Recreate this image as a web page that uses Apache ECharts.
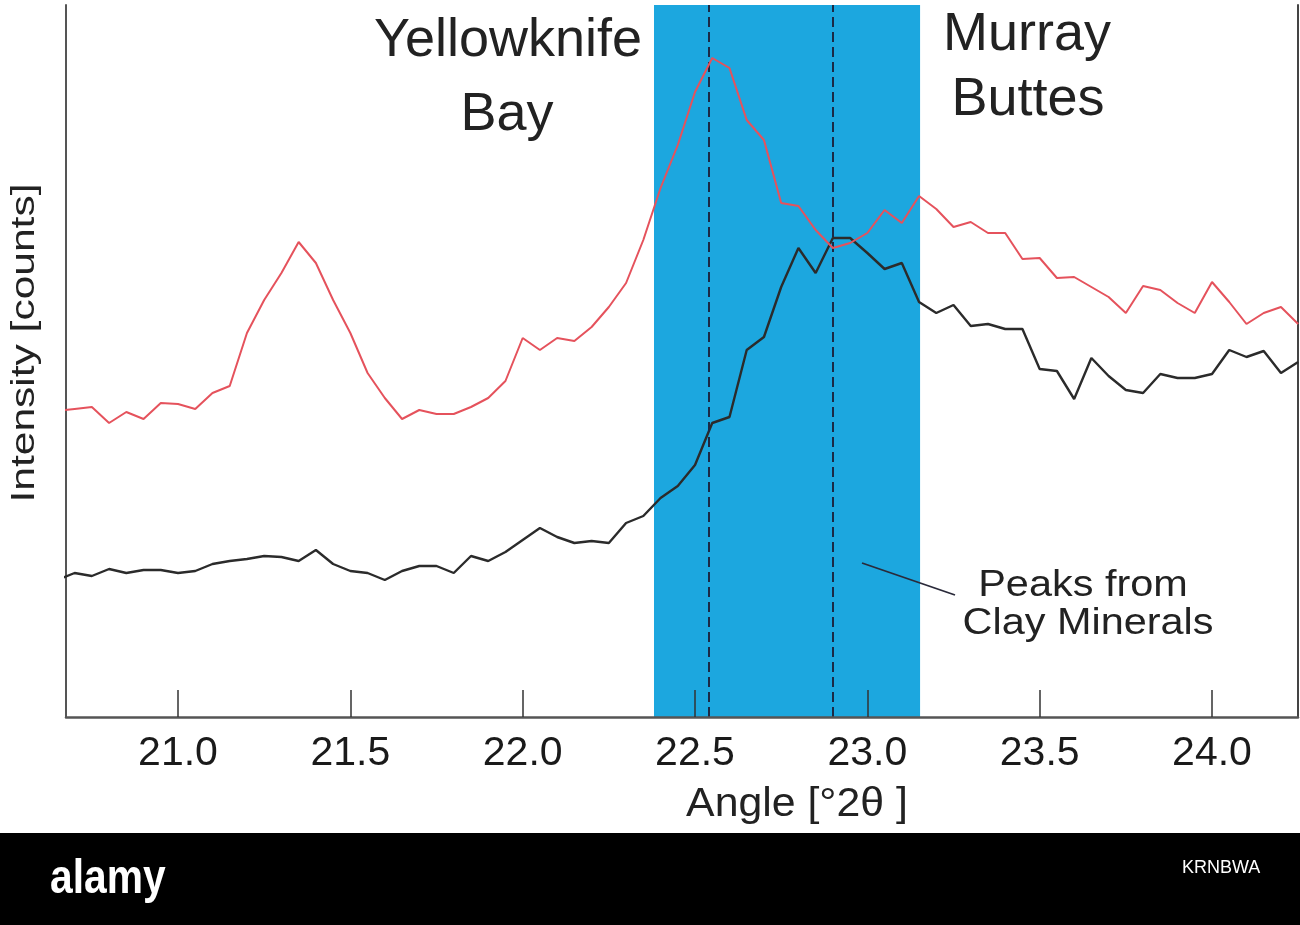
<!DOCTYPE html>
<html>
<head>
<meta charset="utf-8">
<title>Yellowknife Bay / Murray Buttes XRD</title>
<script src="https://cdn.jsdelivr.net/npm/echarts@6.0.0/dist/echarts.min.js"></script>
<style>
    html, body { margin: 0; padding: 0; background: #fff; }
    #chart { width: 1300px; height: 925px; }
</style>
</head>
<body>
<div id="chart"></div>
<script>
// 2theta angles (deg), sampled every 0.05
var angles = [
    20.65, 20.70, 20.75, 20.80, 20.85, 20.90, 20.95, 21.00, 21.05, 21.10,
    21.15, 21.20, 21.25, 21.30, 21.35, 21.40, 21.45, 21.50, 21.55, 21.60,
    21.65, 21.70, 21.75, 21.80, 21.85, 21.90, 21.95, 22.00, 22.05, 22.10,
    22.15, 22.20, 22.25, 22.30, 22.35, 22.40, 22.45, 22.50, 22.55, 22.60,
    22.65, 22.70, 22.75, 22.80, 22.85, 22.90, 22.95, 23.00, 23.05, 23.10,
    23.15, 23.20, 23.25, 23.30, 23.35, 23.40, 23.45, 23.50, 23.55, 23.60,
    23.65, 23.70, 23.75, 23.80, 23.85, 23.90, 23.95, 24.00, 24.05, 24.10,
    24.15, 24.20, 24.25
];

// Murray Buttes (red)
var murray = [
    306, 308, 310, 294, 305, 298, 314, 313, 308, 324,
    331, 384, 417, 444, 475, 454, 417, 384, 344, 319,
    298, 307, 303, 303, 310, 319, 336, 379, 367, 379,
    376, 390, 410, 434, 477, 529, 572, 625, 659, 649,
    597, 577, 514, 511, 487, 469, 474, 484, 507, 494,
    521, 508, 490, 495, 484, 484, 458, 459, 439, 440,
    430, 420, 404, 431, 427, 414, 404, 435, 415, 393,
    404, 410, 393
];

// Yellowknife Bay (black)
var yellowknife = [
    137, 144, 141, 148, 144, 147, 147, 144, 146, 153,
    156, 158, 161, 160, 156, 167, 153, 146, 144, 137,
    146, 151, 151, 144, 161, 156, 165, 177, 189, 180,
    174, 176, 174, 194, 201, 219, 231, 252, 294, 300,
    367, 380, 430, 469, 444, 479, 479, 464, 448, 454,
    415, 404, 412, 391, 393, 388, 388, 348, 346, 318,
    359, 341, 327, 324, 343, 339, 339, 343, 367, 360,
    366, 344, 355
];

var tickValues = [21.0, 21.5, 22.0, 22.5, 23.0, 23.5, 24.0];
var clayBand = [22.381, 23.153];
var clayPeaks = [22.544, 22.900];

function pairs(xs, ys) {
    var out = [];
    for (var i = 0; i < xs.length; i++) {
        out.push([xs[i], ys[i]]);
    }
    return out;
}

var chart = echarts.init(document.getElementById('chart'), null, { renderer: 'canvas' });

var font = '"Liberation Sans", Arial, sans-serif';

chart.setOption({
    backgroundColor: '#ffffff',
    animation: false,
    grid: {
        left: 66, right: 2, top: 5, bottom: 208,
        containLabel: false,
        outerBoundsMode: 'none'
    },
    xAxis: {
        type: 'value',
        min: 20.675,
        max: 24.2495,
        z: 6,
        axisLine: { show: true, onZero: false, lineStyle: { color: '#555', width: 2.5 } },
        axisTick: {
            show: true,
            inside: true,
            length: 27,
            customValues: tickValues,
            lineStyle: { color: '#333', width: 1.5 }
        },
        axisLabel: {
            customValues: tickValues,
            margin: 16,
            fontSize: 41,
            fontFamily: font,
            color: '#1a1a1a',
            formatter: function (v) { return v.toFixed(1); }
        },
        splitLine: { show: false }
    },
    yAxis: [
        {
            type: 'value',
            min: 0,
            max: 712,
            axisLine: { show: true, lineStyle: { color: '#555', width: 2 } },
            axisTick: { show: false },
            axisLabel: { show: false },
            splitLine: { show: false }
        },
        {
            type: 'value',
            position: 'right',
            min: 0,
            max: 712,
            axisLine: { show: true, lineStyle: { color: '#444', width: 2 } },
            axisTick: { show: false },
            axisLabel: { show: false },
            splitLine: { show: false }
        }
    ],
    series: [
        {
            name: 'Yellowknife Bay',
            type: 'line',
            data: pairs(angles, yellowknife),
            showSymbol: false,
            lineStyle: { color: '#2b2b2b', width: 2.4 },
            z: 4,
            markArea: {
                silent: true,
                itemStyle: { color: '#1ca7df', opacity: 1 },
                data: [[{ xAxis: clayBand[0] }, { xAxis: clayBand[1] }]]
            },
            markLine: {
                silent: true,
                symbol: 'none',
                label: { show: false },
                lineStyle: { color: '#1b2a45', width: 2, type: [10, 5] },
                data: [{ xAxis: clayPeaks[0] }, { xAxis: clayPeaks[1] }]
            }
        },
        {
            name: 'Murray Buttes',
            type: 'line',
            data: pairs(angles, murray),
            showSymbol: false,
            lineStyle: { color: '#e5525c', width: 2 },
            z: 5
        }
    ],
    graphic: [
        // sample labels
        { type: 'text', z: 20, x: 508, y: 41, style: { text: 'Yellowknife', font: '54px ' + font, fill: '#222', textAlign: 'center', textVerticalAlign: 'middle' } },
        { type: 'text', z: 20, x: 507, y: 115, style: { text: 'Bay', font: '54px ' + font, fill: '#222', textAlign: 'center', textVerticalAlign: 'middle' } },
        { type: 'text', z: 20, x: 1027, y: 35, style: { text: 'Murray', font: '54px ' + font, fill: '#222', textAlign: 'center', textVerticalAlign: 'middle' } },
        { type: 'text', z: 20, x: 1028, y: 100, style: { text: 'Buttes', font: '54px ' + font, fill: '#222', textAlign: 'center', textVerticalAlign: 'middle' } },
        // annotation
        { type: 'line', z: 20, shape: { x1: 862, y1: 563, x2: 955, y2: 595 }, style: { stroke: '#2a2a3a', lineWidth: 1.8 } },
        { type: 'text', z: 20, x: 1083, y: 586, scaleX: 1.12, style: { text: 'Peaks from', font: '37px ' + font, fill: '#222', textAlign: 'center', textVerticalAlign: 'middle' } },
        { type: 'text', z: 20, x: 1088, y: 624, scaleX: 1.12, style: { text: 'Clay Minerals', font: '37px ' + font, fill: '#222', textAlign: 'center', textVerticalAlign: 'middle' } },
        // axis names
        { type: 'text', z: 20, x: 797, y: 805, scaleX: 1.07, style: { text: 'Angle [°2θ ]', font: '40px ' + font, fill: '#222', textAlign: 'center', textVerticalAlign: 'middle' } },
        { type: 'text', z: 20, x: 25, y: 343, rotation: Math.PI / 2, scaleX: 1.25, style: { text: 'Intensity [counts]', font: '34px ' + font, fill: '#222', textAlign: 'center', textVerticalAlign: 'middle' } },
        // stock-photo footer
        { type: 'rect', z: 20, shape: { x: 0, y: 833, width: 1300, height: 92 }, style: { fill: '#000' } },
        { type: 'text', z: 21, x: 50, y: 880, scaleX: 0.85, style: { text: 'alamy', font: 'bold 48px ' + font, fill: '#fff', textVerticalAlign: 'middle' } },
        { type: 'text', z: 21, x: 1182, y: 868, style: { text: 'KRNBWA', font: '18px ' + font, fill: '#fff', textVerticalAlign: 'middle' } }
    ]
});
</script>
</body>
</html>
